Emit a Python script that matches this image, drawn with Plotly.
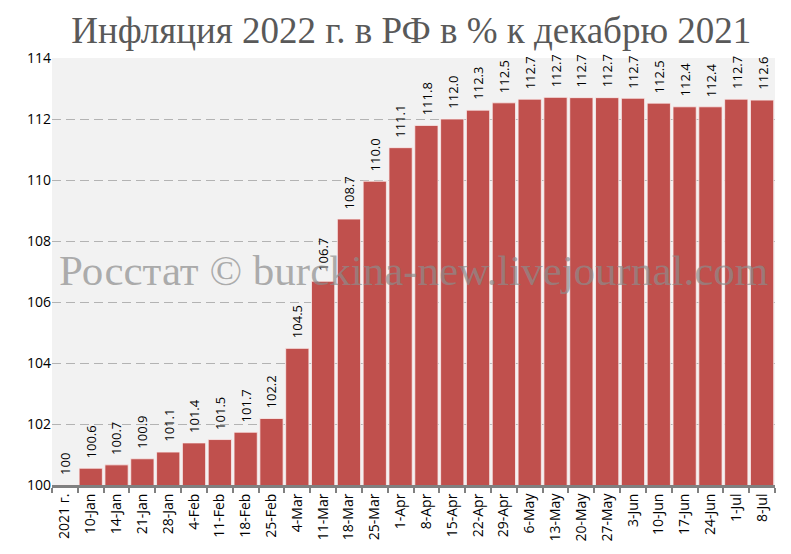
import plotly.graph_objects as go

# weeks of 2022, index vs December 2021
dates = ["2021 г.", "10-Jan", "14-Jan", "21-Jan", "28-Jan", "4-Feb", "11-Feb",
         "18-Feb", "25-Feb", "4-Mar", "11-Mar", "18-Mar", "25-Mar", "1-Apr",
         "8-Apr", "15-Apr", "22-Apr", "29-Apr", "6-May", "13-May", "20-May",
         "27-May", "3-Jun", "10-Jun", "17-Jun", "24-Jun", "1-Jul", "8-Jul"]
values = [100.0, 100.55, 100.66, 100.86, 101.08, 101.38, 101.49, 101.73,
          102.18, 104.48, 106.68, 108.72, 109.96, 111.06, 111.79, 112.0,
          112.29, 112.53, 112.65, 112.71, 112.70, 112.70, 112.68, 112.52,
          112.40, 112.40, 112.65, 112.62]
labels = ["100", "100.6", "100.7", "100.9", "101.1", "101.4", "101.5", "101.7",
          "102.2", "104.5", "106.7", "108.7", "110.0", "111.1", "111.8", "112.0",
          "112.3", "112.5", "112.7", "112.7", "112.7", "112.7", "112.7", "112.5",
          "112.4", "112.4", "112.7", "112.6"]

fig = go.Figure()
fig.add_trace(go.Bar(
    x=dates,
    y=values,
    marker=dict(color="#c0504d", line=dict(color="#fbeeee", width=0.8)),
    hoverinfo="x+y",
))

# value labels above the bars, rotated like the original
for d, v, t in zip(dates, values, labels):
    fig.add_annotation(
        x=d, y=v, text=t, textangle=-90,
        xanchor="center", yanchor="bottom", yshift=8,
        showarrow=False,
        font=dict(family="Open Sans", size=13, color="#000000"),
    )

# the page has an 8px body margin, so the figure is a bit smaller
fig.update_layout(
    width=783,
    height=546,
    margin=dict(l=44, r=16, t=50, b=66),
    paper_bgcolor="#ffffff",
    plot_bgcolor="#f2f2f2",
    bargap=0.1,
    showlegend=False,
    title=dict(
        text="Инфляция 2022 г. в РФ в % к декабрю 2021",
        x=0.515, xanchor="center", y=0.96, yanchor="middle",
        font=dict(family="Liberation Serif", size=37, color="#595959"),
    ),
    yaxis=dict(
        range=[100, 114],
        dtick=2,
        showgrid=True,
        gridcolor="#b3b3b3",
        griddash="9px,5px",
        gridwidth=1,
        zeroline=False,
        tickfont=dict(family="Open Sans", size=14, color="#000000"),
        ticklen=0,
    ),
    xaxis=dict(
        tickangle=-90,
        tickson="boundaries",
        ticks="outside",
        ticklen=5,
        tickwidth=2,
        tickcolor="#808080",
        showline=True,
        linecolor="#808080",
        linewidth=3,
        tickfont=dict(family="Open Sans", size=14, color="#000000"),
    ),
)

fig.add_annotation(
    text="Росстат © burckina-new.livejournal.com",
    xref="paper", yref="paper", x=0.5, y=0.502,
    xanchor="center", yanchor="middle", showarrow=False,
    font=dict(family="Liberation Serif", size=43, color="rgba(140,140,140,0.7)"),
)

fig.write_html("out.html")
